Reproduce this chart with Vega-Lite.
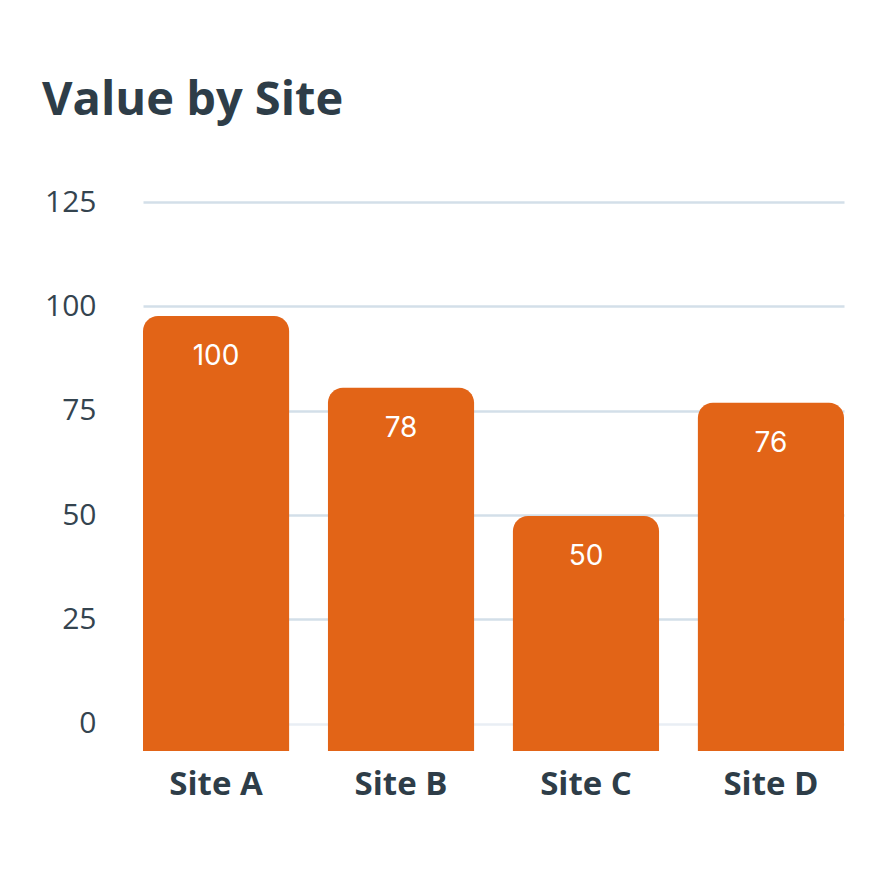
{
  "$schema": "https://vega.github.io/schema/vega-lite/v6.json",
  "description": "Value by Site",
  "width": 701,
  "height": 549,
  "autosize": "none",
  "padding": {"left": 143, "top": 202, "right": 40, "bottom": 133},
  "background": "#ffffff",
  "title": {
    "text": "Value by Site",
    "anchor": "start",
    "frame": "group",
    "dx": -101,
    "offset": 25,
    "baseline": "alphabetic",
    "font": "Open Sans",
    "fontSize": 47,
    "fontWeight": "bold",
    "color": "#2e3d48"
  },
  "data": {
    "values": [
      {"Site": "Site A", "Value": 100, "Plotted": 97.7},
      {"Site": "Site B", "Value": 78, "Plotted": 80.5},
      {"Site": "Site C", "Value": 50, "Plotted": 49.8},
      {"Site": "Site D", "Value": 76, "Plotted": 76.9}
    ]
  },
  "config": {
    "view": {"stroke": null},
    "font": "Open Sans"
  },
  "encoding": {
    "x": {
      "field": "Site",
      "type": "nominal",
      "sort": null,
      "scale": {"paddingInner": 0.21, "paddingOuter": 0},
      "axis": {
        "title": null,
        "labelAngle": 0,
        "ticks": false,
        "domain": false,
        "labelPadding": 17,
        "labelFont": "Open Sans",
        "labelFontSize": 33,
        "labelFontWeight": "bold",
        "labelColor": "#2e3d48"
      }
    },
    "y": {
      "field": "Plotted",
      "type": "quantitative",
      "scale": {"domain": [-6.5, 125], "nice": false, "zero": false},
      "axis": {
        "title": null,
        "values": [0, 25, 50, 75, 100, 125],
        "ticks": false,
        "domain": false,
        "labelPadding": 47,
        "labelFont": "Open Sans",
        "labelFontSize": 30,
        "labelColor": "#34444f",
        "gridColor": {
          "condition": {"test": "datum.value === 0", "value": "#e9eef4"},
          "value": "#d3dfe9"
        },
        "gridWidth": 2.5
      }
    }
  },
  "layer": [
    {
      "mark": {
        "type": "bar",
        "color": "#e26417",
        "cornerRadiusTopLeft": 15,
        "cornerRadiusTopRight": 15
      },
      "encoding": {
        "y2": {"datum": -6.5}
      }
    },
    {
      "mark": {
        "type": "text",
        "baseline": "middle",
        "align": "center",
        "dy": 41,
        "font": "Inter",
        "fontSize": 28,
        "color": "#ffffff"
      },
      "encoding": {
        "text": {"field": "Value", "type": "quantitative"}
      }
    }
  ]
}
